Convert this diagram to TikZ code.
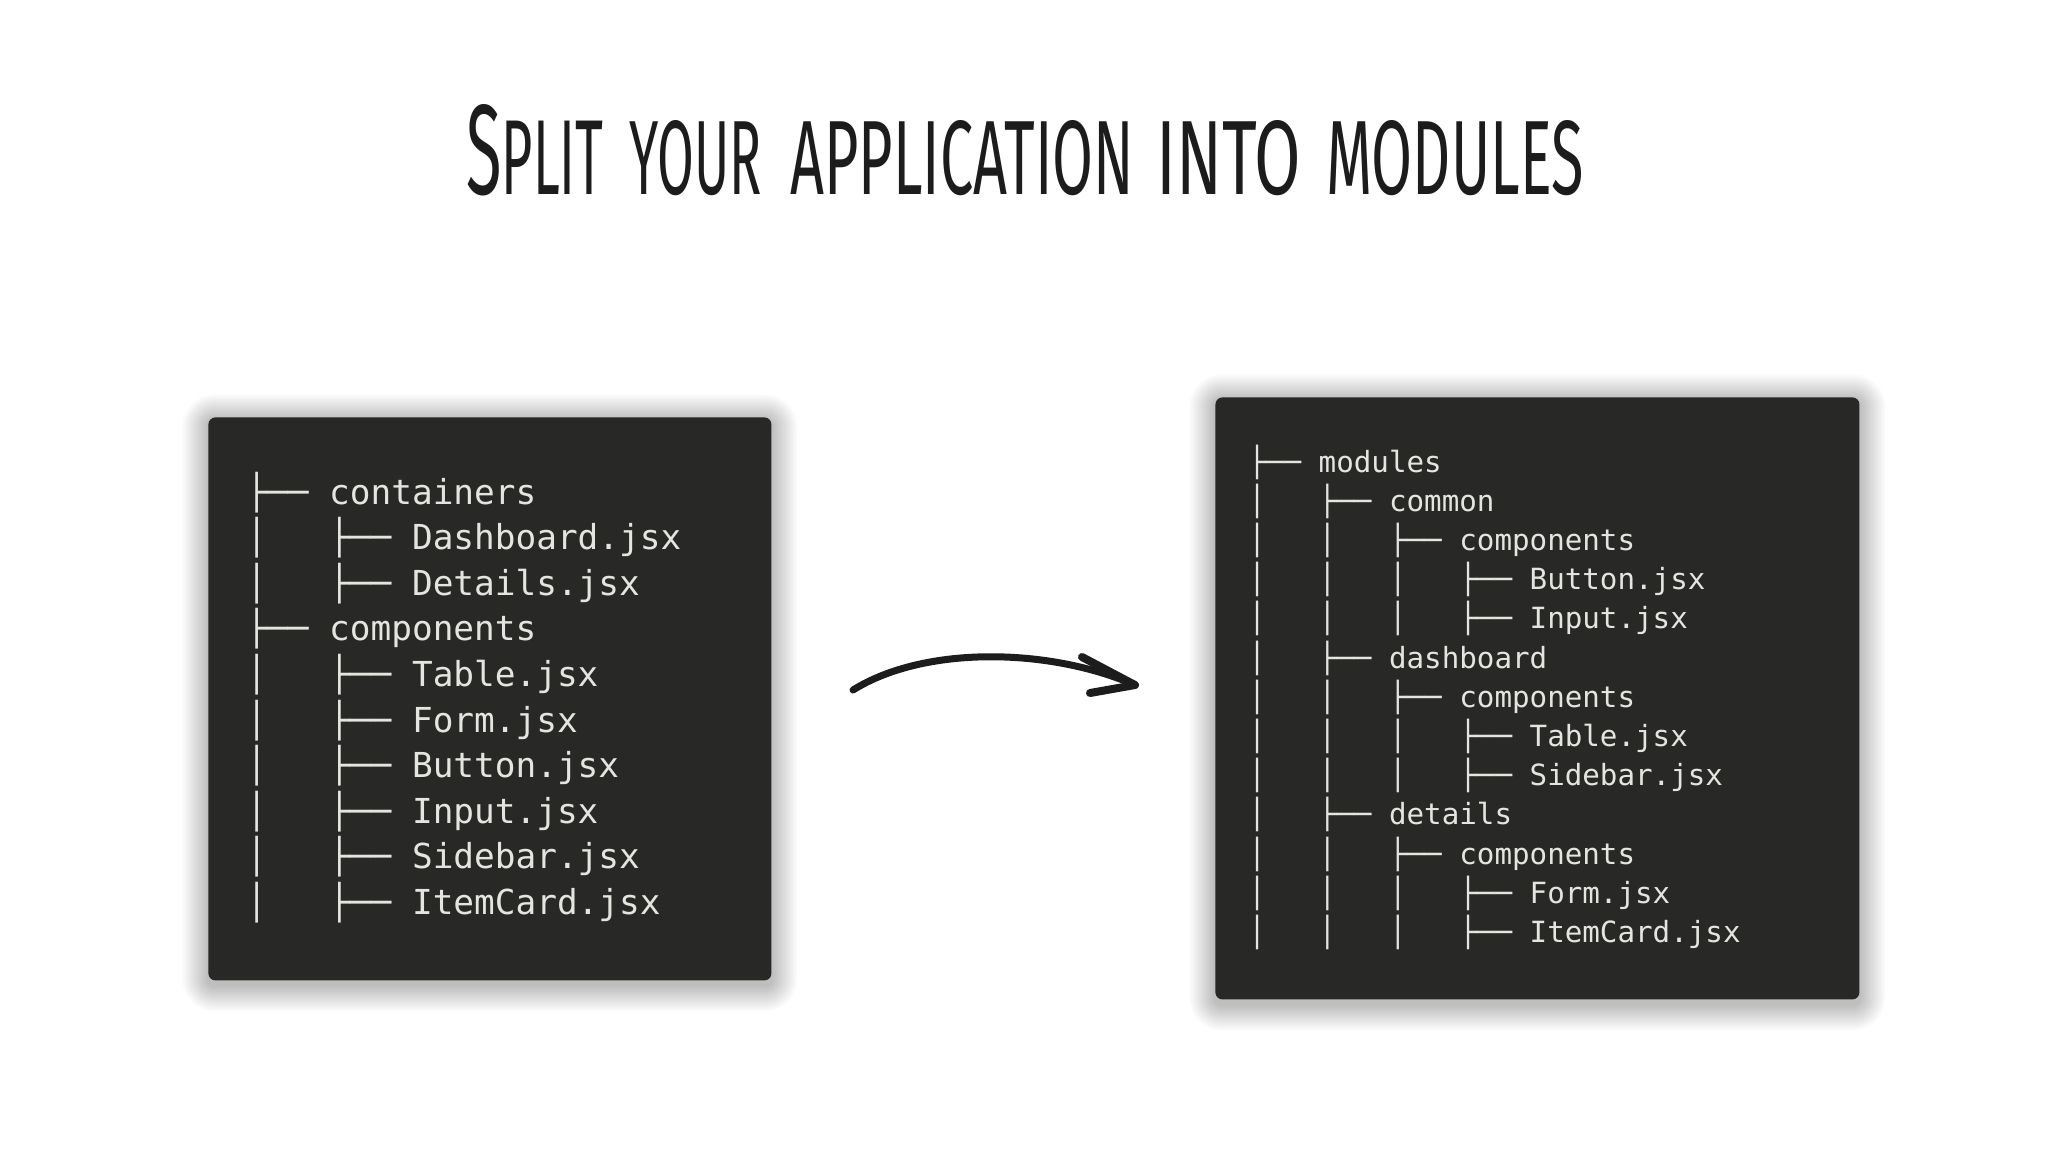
\documentclass[tikz,border=0pt]{standalone}
\usepackage{fontspec}
\usepackage{graphicx}
\usetikzlibrary{backgrounds}
\newfontfamily\treefont{DejaVu Sans Mono}
\newfontfamily\titlefont{Fira Sans}
\definecolor{boxbg}{HTML}{282826}
\definecolor{treefg}{HTML}{E4E4E0}
\definecolor{ink}{HTML}{1C1C1C}
\newcommand\boxshadow[1]{%
  \foreach \k in {1,...,16}{%
    \pgfmathsetmacro\e{\k*0.8}%
    \pgfmathsetmacro\rr{3.5+\e}%
    \fill[black, opacity=0.017, rounded corners=\rr pt]
      ([xshift=-\e pt, yshift=\e pt-1.5pt]#1.north west) rectangle
      ([xshift=\e pt, yshift=-\e pt-2.5pt]#1.south east);
  }}
\begin{document}
\begin{tikzpicture}[x=0.5pt,y=-0.5pt,
  termbox/.style={draw=none, fill=boxbg, rounded corners=3.5pt, inner sep=0pt},
  bigline/.style={anchor=base west, inner sep=0pt, text=treefg, font=\treefont\fontsize{17.2}{20}\selectfont},
  smallline/.style={anchor=base west, inner sep=0pt, text=treefg, font=\treefont\fontsize{14.6}{17}\selectfont},
  handarrow/.style={draw=ink, line width=3.5pt, line cap=round, line join=round}]
\useasboundingbox (0,0) rectangle (2048,1152);

% title
\node[anchor=base west, inner sep=0pt, text=ink] (title) at (466,194) {\titlefont
  \resizebox{68.6pt}{45pt}{\fontsize{10}{12}\selectfont S\fontsize{8.3}{10}\selectfont PLIT}\hspace{13.05pt}%
  \resizebox{66pt}{37pt}{YOUR}\hspace{14.35pt}%
  \resizebox{171.8pt}{37pt}{APPLICATION}\hspace{11.1pt}%
  \resizebox{72.5pt}{37pt}{INTO}\hspace{12.4pt}%
  \resizebox{128.7pt}{37pt}{MODULES}};

% boxes
\node[termbox, minimum width=281.5pt, minimum height=281.5pt, anchor=north west] (leftbox) at (208,417) {};
\node[termbox, minimum width=322pt, minimum height=301pt, anchor=north west] (rightbox) at (1215,397) {};

\begin{scope}[on background layer]
  \fill[white] (0,0) rectangle (2048,1152);
  \boxshadow{leftbox}
  \boxshadow{rightbox}
\end{scope}

% left tree
\foreach \i/\t in {0/{├──~containers},
  1/{│~~~├──~Dashboard.jsx},
  2/{│~~~├──~Details.jsx},
  3/{├──~components},
  4/{│~~~├──~Table.jsx},
  5/{│~~~├──~Form.jsx},
  6/{│~~~├──~Button.jsx},
  7/{│~~~├──~Input.jsx},
  8/{│~~~├──~Sidebar.jsx},
  9/{│~~~├──~ItemCard.jsx}}
  \node[bigline] (L\i) at (246,{504+45.6*\i}) {\t};

% right tree
\foreach \i/\t in {0/{├──~modules},
  1/{│~~~├──~common},
  2/{│~~~│~~~├──~components},
  3/{│~~~│~~~│~~~├──~Button.jsx},
  4/{│~~~│~~~│~~~├──~Input.jsx},
  5/{│~~~├──~dashboard},
  6/{│~~~│~~~├──~components},
  7/{│~~~│~~~│~~~├──~Table.jsx},
  8/{│~~~│~~~│~~~├──~Sidebar.jsx},
  9/{│~~~├──~details},
  10/{│~~~│~~~├──~components},
  11/{│~~~│~~~│~~~├──~Form.jsx},
  12/{│~~~│~~~│~~~├──~ItemCard.jsx}}
  \node[smallline] (R\i) at (1248,{472+39.2*\i}) {\t};

% arrow
\coordinate (astart) at (853,690);
\coordinate (aend) at (1135,685);
\coordinate (aup) at (1082,657);
\coordinate (alow) at (1090,693);
\draw[handarrow] (astart) .. controls (925,645) and (1050,648) .. (aend);
\draw[handarrow, line width=4pt] (aup) -- (aend) -- (alow);
\end{tikzpicture}
\end{document}
